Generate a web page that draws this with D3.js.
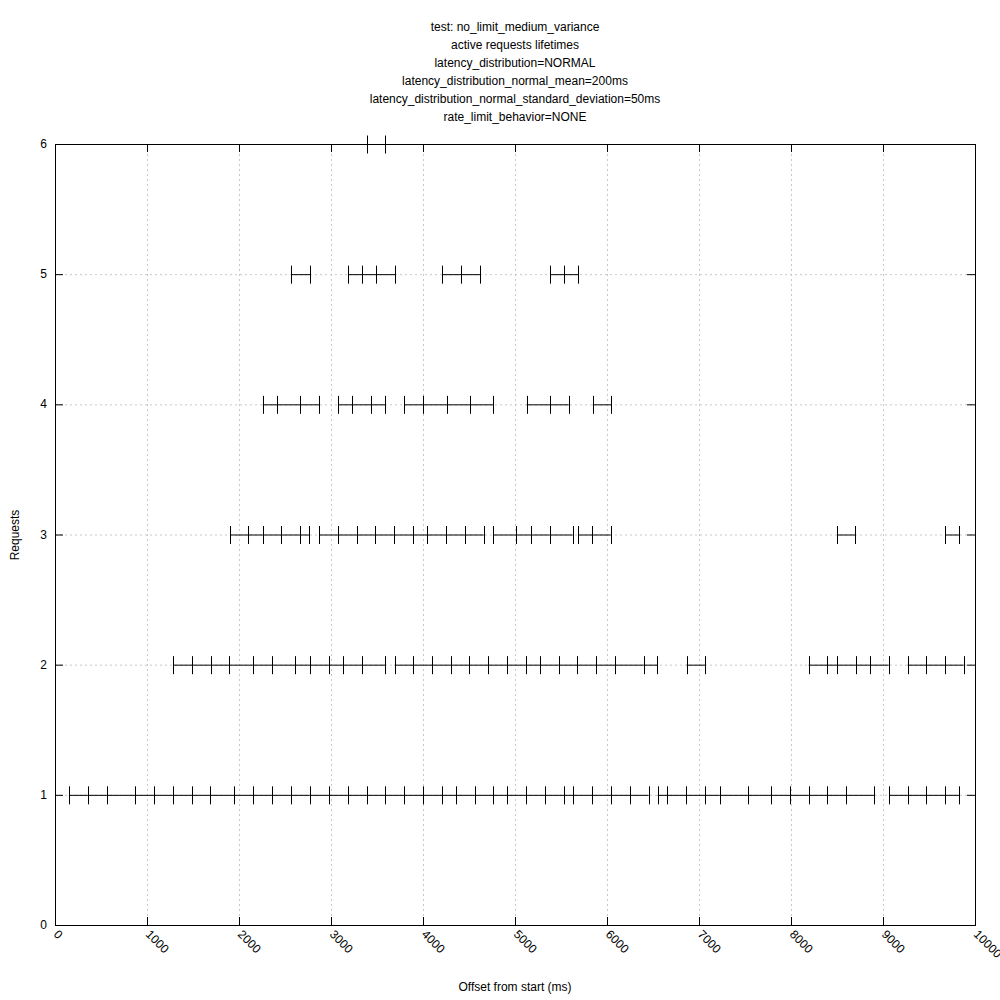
<!DOCTYPE html>
<html>
<head>
<meta charset="utf-8">
<script src="https://cdn.jsdelivr.net/npm/d3@7"></script>
<style>
  body { margin: 0; background: #fff; }
  text { font-family: "Liberation Sans", Arial, sans-serif; font-size: 12px; fill: #000; }
</style>
</head>
<body>
<svg id="chart" width="1000" height="1000"></svg>
<script>
const titleLines = [
  "test: no_limit_medium_variance",
  "active requests lifetimes",
  "latency_distribution=NORMAL",
  "latency_distribution_normal_mean=200ms",
  "latency_distribution_normal_standard_deviation=50ms",
  "rate_limit_behavior=NONE",
];
const xTicks = [0, 1000, 2000, 3000, 4000, 5000, 6000, 7000, 8000, 9000, 10000];
const yTicks = [0, 1, 2, 3, 4, 5, 6];

// each chain: consecutive boundaries (ms) of back-to-back request lifetimes
const row1 = [
  [152, 355, 562, 870, 1076, 1279, 1486, 1688, 1946, 2152, 2355, 2562, 2768, 2978, 3182, 3388, 3590, 3793, 4000, 4207, 4359, 4562, 4764, 4916, 5116, 5326, 5533, 5634, 5840, 6043, 6250, 6453],
  [6551, 6655, 6862, 7068, 7225, 7529, 7783, 7989, 8192, 8395, 8598, 8902],
  [9065, 9268, 9467, 9674, 9826],
];
const row2 = [
  [1286, 1489, 1692, 1895, 2149, 2355, 2612, 2772, 2975, 3130, 3334, 3587],
  [3692, 3895, 4101, 4301, 4503, 4707, 4910, 5116, 5272, 5475, 5677, 5880, 6087, 6399, 6547],
  [6866, 7068],
  [8192, 8395, 8497, 8703, 8859, 9062],
  [9268, 9471, 9674, 9877],
];
const row3 = [
  [1902, 2101, 2258, 2460, 2663, 2764],
  [2873, 3073, 3279, 3482, 3685, 3891, 4047, 4253, 4457, 4660],
  [4764, 5008, 5171, 5377, 5627],
  [5685, 5837, 6040],
  [8500, 8696],
  [9674, 9826],
];
const row4 = [
  [2258, 2410, 2666, 2870],
  [3076, 3228, 3435, 3590],
  [3797, 4000, 4258, 4511, 4764],
  [5127, 5384, 5584],
  [5845, 6043],
];
const row5 = [
  [2565, 2772],
  [3185, 3337, 3489, 3696],
  [4207, 4413, 4620],
  [5380, 5533, 5685],
];
const row6 = [[3391, 3587]];
const rows = [row1, row2, row3, row4, row5, row6];

const svg = d3.select("#chart");
const plotLeft = 55, plotRight = 975, plotTop = 144, plotBottom = 925;
const x = d3.scaleLinear().domain([0, 10000]).range([plotLeft, plotRight]);
const y = d3.scaleLinear().domain([0, 6]).range([plotBottom, plotTop]);

// titles
svg.selectAll(".title").data(titleLines).join("text")
  .attr("x", 515).attr("y", (d, i) => 31 + i * 18)
  .attr("text-anchor", "middle").text(d => d);

// grid
const grid = svg.append("g").attr("stroke", "#c8c8c8").attr("stroke-dasharray", "2,3").attr("stroke-width", 1);
xTicks.slice(1, -1).forEach(t => grid.append("line")
  .attr("x1", x(t) + 0.5).attr("x2", x(t) + 0.5).attr("y1", plotTop).attr("y2", plotBottom));
yTicks.slice(1, -1).forEach(t => grid.append("line")
  .attr("x1", plotLeft).attr("x2", plotRight).attr("y1", y(t) + 0.5).attr("y2", y(t) + 0.5));

// frame and mirrored ticks
const axes = svg.append("g").attr("stroke", "#000").attr("stroke-width", 1);
axes.append("rect").attr("x", plotLeft + 0.5).attr("y", plotTop + 0.5)
  .attr("width", plotRight - plotLeft).attr("height", plotBottom - plotTop).attr("fill", "none");
xTicks.forEach(t => {
  axes.append("line").attr("x1", x(t) + 0.5).attr("x2", x(t) + 0.5).attr("y1", plotBottom).attr("y2", plotBottom - 8);
  axes.append("line").attr("x1", x(t) + 0.5).attr("x2", x(t) + 0.5).attr("y1", plotTop).attr("y2", plotTop + 8);
});
yTicks.forEach(t => {
  axes.append("line").attr("x1", plotLeft).attr("x2", plotLeft + 8).attr("y1", y(t) + 0.5).attr("y2", y(t) + 0.5);
  axes.append("line").attr("x1", plotRight).attr("x2", plotRight - 8).attr("y1", y(t) + 0.5).attr("y2", y(t) + 0.5);
});

// tick labels
svg.selectAll(".xl").data(xTicks).join("text")
  .attr("transform", d => `translate(${x(d) - 2},${plotBottom + 10}) rotate(45)`)
  .text(d => d);
svg.selectAll(".yl").data(yTicks).join("text")
  .attr("x", plotLeft - 8).attr("y", d => y(d) + 4)
  .attr("text-anchor", "end").text(d => d);

svg.append("text").attr("x", 515).attr("y", 991).attr("text-anchor", "middle")
  .text("Offset from start (ms)");
svg.append("text").attr("transform", "translate(19,535) rotate(-90)")
  .attr("text-anchor", "middle").text("Requests");

// lifetimes
const marks = svg.append("g").attr("stroke", "#000").attr("stroke-width", 1);
rows.forEach((chains, ri) => {
  const yy = y(ri + 1) + 0.5;
  chains.forEach(chain => {
    for (let i = 0; i < chain.length - 1; i++) {
      marks.append("line").attr("x1", x(chain[i])).attr("x2", x(chain[i + 1]))
        .attr("y1", yy).attr("y2", yy);
    }
    chain.forEach(v => marks.append("line")
      .attr("x1", Math.round(x(v)) + 0.5).attr("x2", Math.round(x(v)) + 0.5)
      .attr("y1", yy - 9).attr("y2", yy + 9));
  });
});
</script>
</body>
</html>
